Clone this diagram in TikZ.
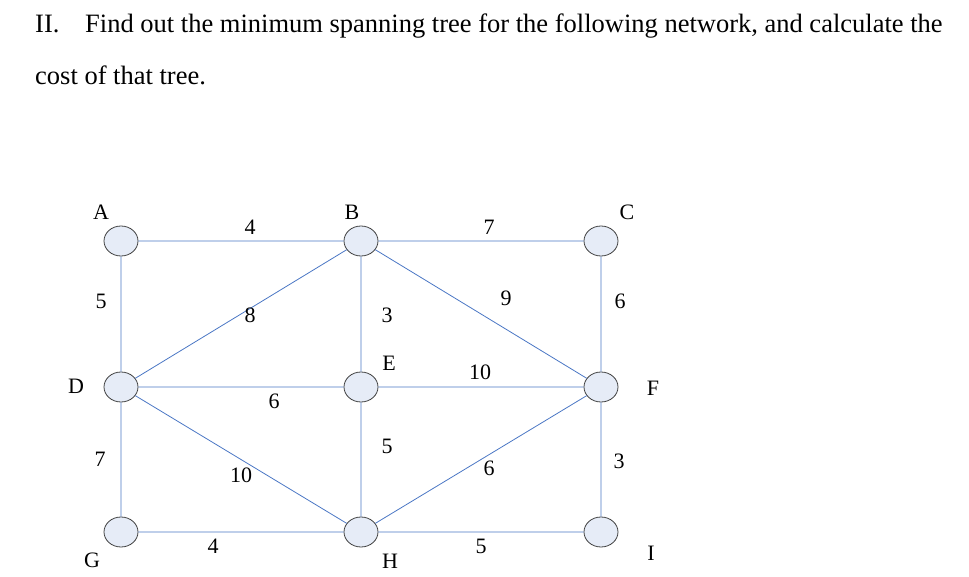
\documentclass[tikz,border=0pt]{standalone}
\usepackage{fontspec}
\setmainfont{Liberation Serif}
\usetikzlibrary{shapes.geometric}
\definecolor{edgeblue}{HTML}{4A76C4}
\definecolor{vfill}{HTML}{E6ECF7}
\begin{document}
\begin{tikzpicture}[x=1pt,y=-1pt,
  vtx/.style={ellipse,draw=black!75,fill=vfill,minimum width=34pt,minimum height=30pt,inner sep=0pt,line width=0.8pt},
  edge/.style={draw=edgeblue,line width=0.8pt},
  lbl/.style={font=\fontsize{22}{24}\selectfont,inner sep=0pt},
  ttl/.style={font=\fontsize{26.5}{28}\selectfont,inner sep=0pt,anchor=base west}]
\useasboundingbox (0,0) rectangle (969,577);
\node[ttl] (t1) at (35,33) {II.};
\node[ttl] (t2) at (85,33) {Find out the minimum spanning tree for the following network, and calculate the};
\node[ttl] (t3) at (35,85) {cost of that tree.};
\node[vtx] (A) at (121,241) {};
\node[vtx] (B) at (361,241) {};
\node[vtx] (C) at (601,241) {};
\node[vtx] (D) at (121,387) {};
\node[vtx] (E) at (361,387) {};
\node[vtx] (F) at (601,387) {};
\node[vtx] (G) at (121,532) {};
\node[vtx] (H) at (361,532) {};
\node[vtx] (I) at (601,532) {};
\draw[edge] (A)--(B) (B)--(C) (A)--(D) (C)--(F) (D)--(G) (F)--(I)
 (B)--(D) (B)--(E) (B)--(F) (D)--(E) (E)--(F) (D)--(H) (E)--(H) (F)--(H) (G)--(H) (H)--(I);
\node[lbl] (lA) at (101,212) {A};
\node[lbl] (lB) at (352,212) {B};
\node[lbl] (lC) at (627,212) {C};
\node[lbl] (lD) at (76,386) {D};
\node[lbl] (lE) at (389,363) {E};
\node[lbl] (lF) at (653,388) {F};
\node[lbl] (lG) at (92,560) {G};
\node[lbl] (lH) at (390,561) {H};
\node[lbl] (lI) at (651,553) {I};
\node[lbl] (w1) at (250,227) {4};
\node[lbl] (w2) at (489,227) {7};
\node[lbl] (w3) at (101,301) {5};
\node[lbl] (w4) at (250,315) {8};
\node[lbl] (w5) at (387,315) {3};
\node[lbl] (w6) at (506,298) {9};
\node[lbl] (w7) at (620,301) {6};
\node[lbl] (w8) at (480,372) {10};
\node[lbl] (w9) at (274,401) {6};
\node[lbl] (w10) at (100,459) {7};
\node[lbl] (w11) at (387,446) {5};
\node[lbl] (w12) at (241,475) {10};
\node[lbl] (w13) at (489,468) {6};
\node[lbl] (w14) at (619,461) {3};
\node[lbl] (w15) at (213,546) {4};
\node[lbl] (w16) at (481,546) {5};
\end{tikzpicture}
\end{document}
